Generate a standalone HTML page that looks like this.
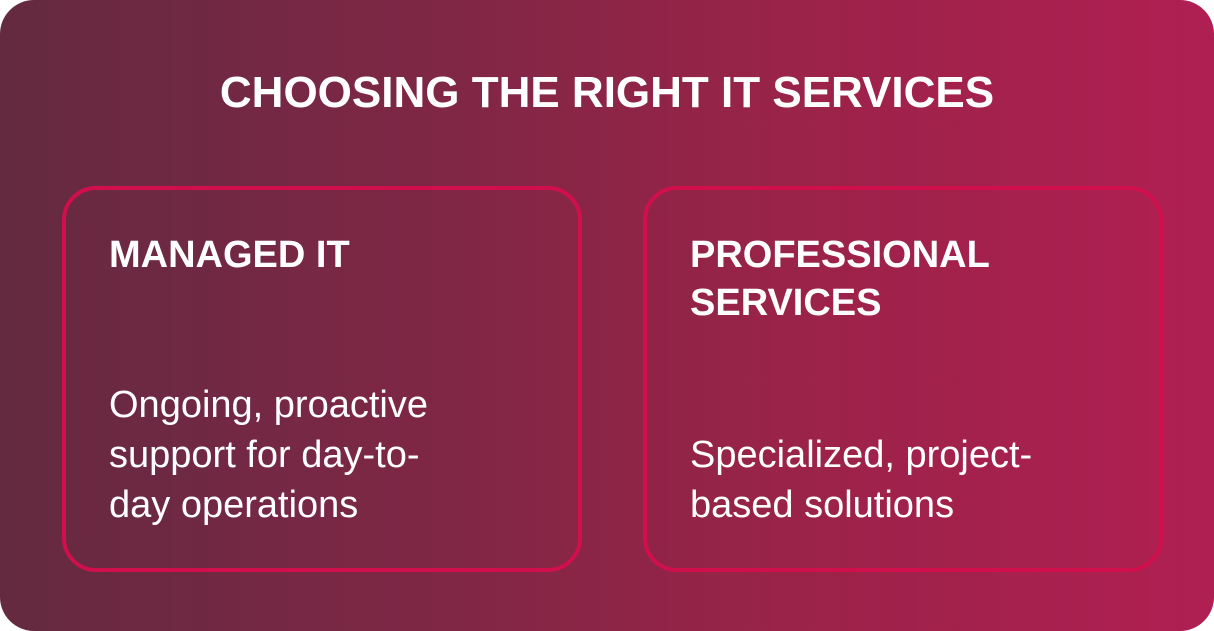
<!DOCTYPE html>
<html><head><meta charset="utf-8"><style>
html,body{margin:0;padding:0;background:#fff;}
.bg{position:absolute;left:0;top:0;width:1214px;height:631px;border-radius:34px;background:linear-gradient(90deg,#642a40 0%,#7e2745 35%,#9a2349 65%,#b01f52 100%);overflow:hidden;font-family:"Liberation Sans",sans-serif;color:#fff;}
.title{position:absolute;left:0;width:1214px;top:66px;text-align:center;font-weight:bold;font-size:44px;line-height:54px;}
.box{position:absolute;top:186px;width:512px;height:378px;border:4px solid #d10f4d;border-radius:34px;}
.h{position:absolute;left:43px;top:41px;font-weight:bold;font-size:38px;line-height:48px;}
.b{position:absolute;left:43px;font-size:38px;line-height:50px;}
</style></head><body>
<div class="bg">
<div class="title">CHOOSING THE RIGHT IT SERVICES</div>
<div class="box" style="left:62px">
<div class="h">MANAGED IT</div>
<div class="b" style="top:190px">Ongoing, proactive<br>support for day-to-<br>day operations</div>
</div>
<div class="box" style="left:643px">
<div class="h">PROFESSIONAL<br>SERVICES</div>
<div class="b" style="top:240px">Specialized, project-<br>based solutions</div>
</div>
</div>
</body></html>
